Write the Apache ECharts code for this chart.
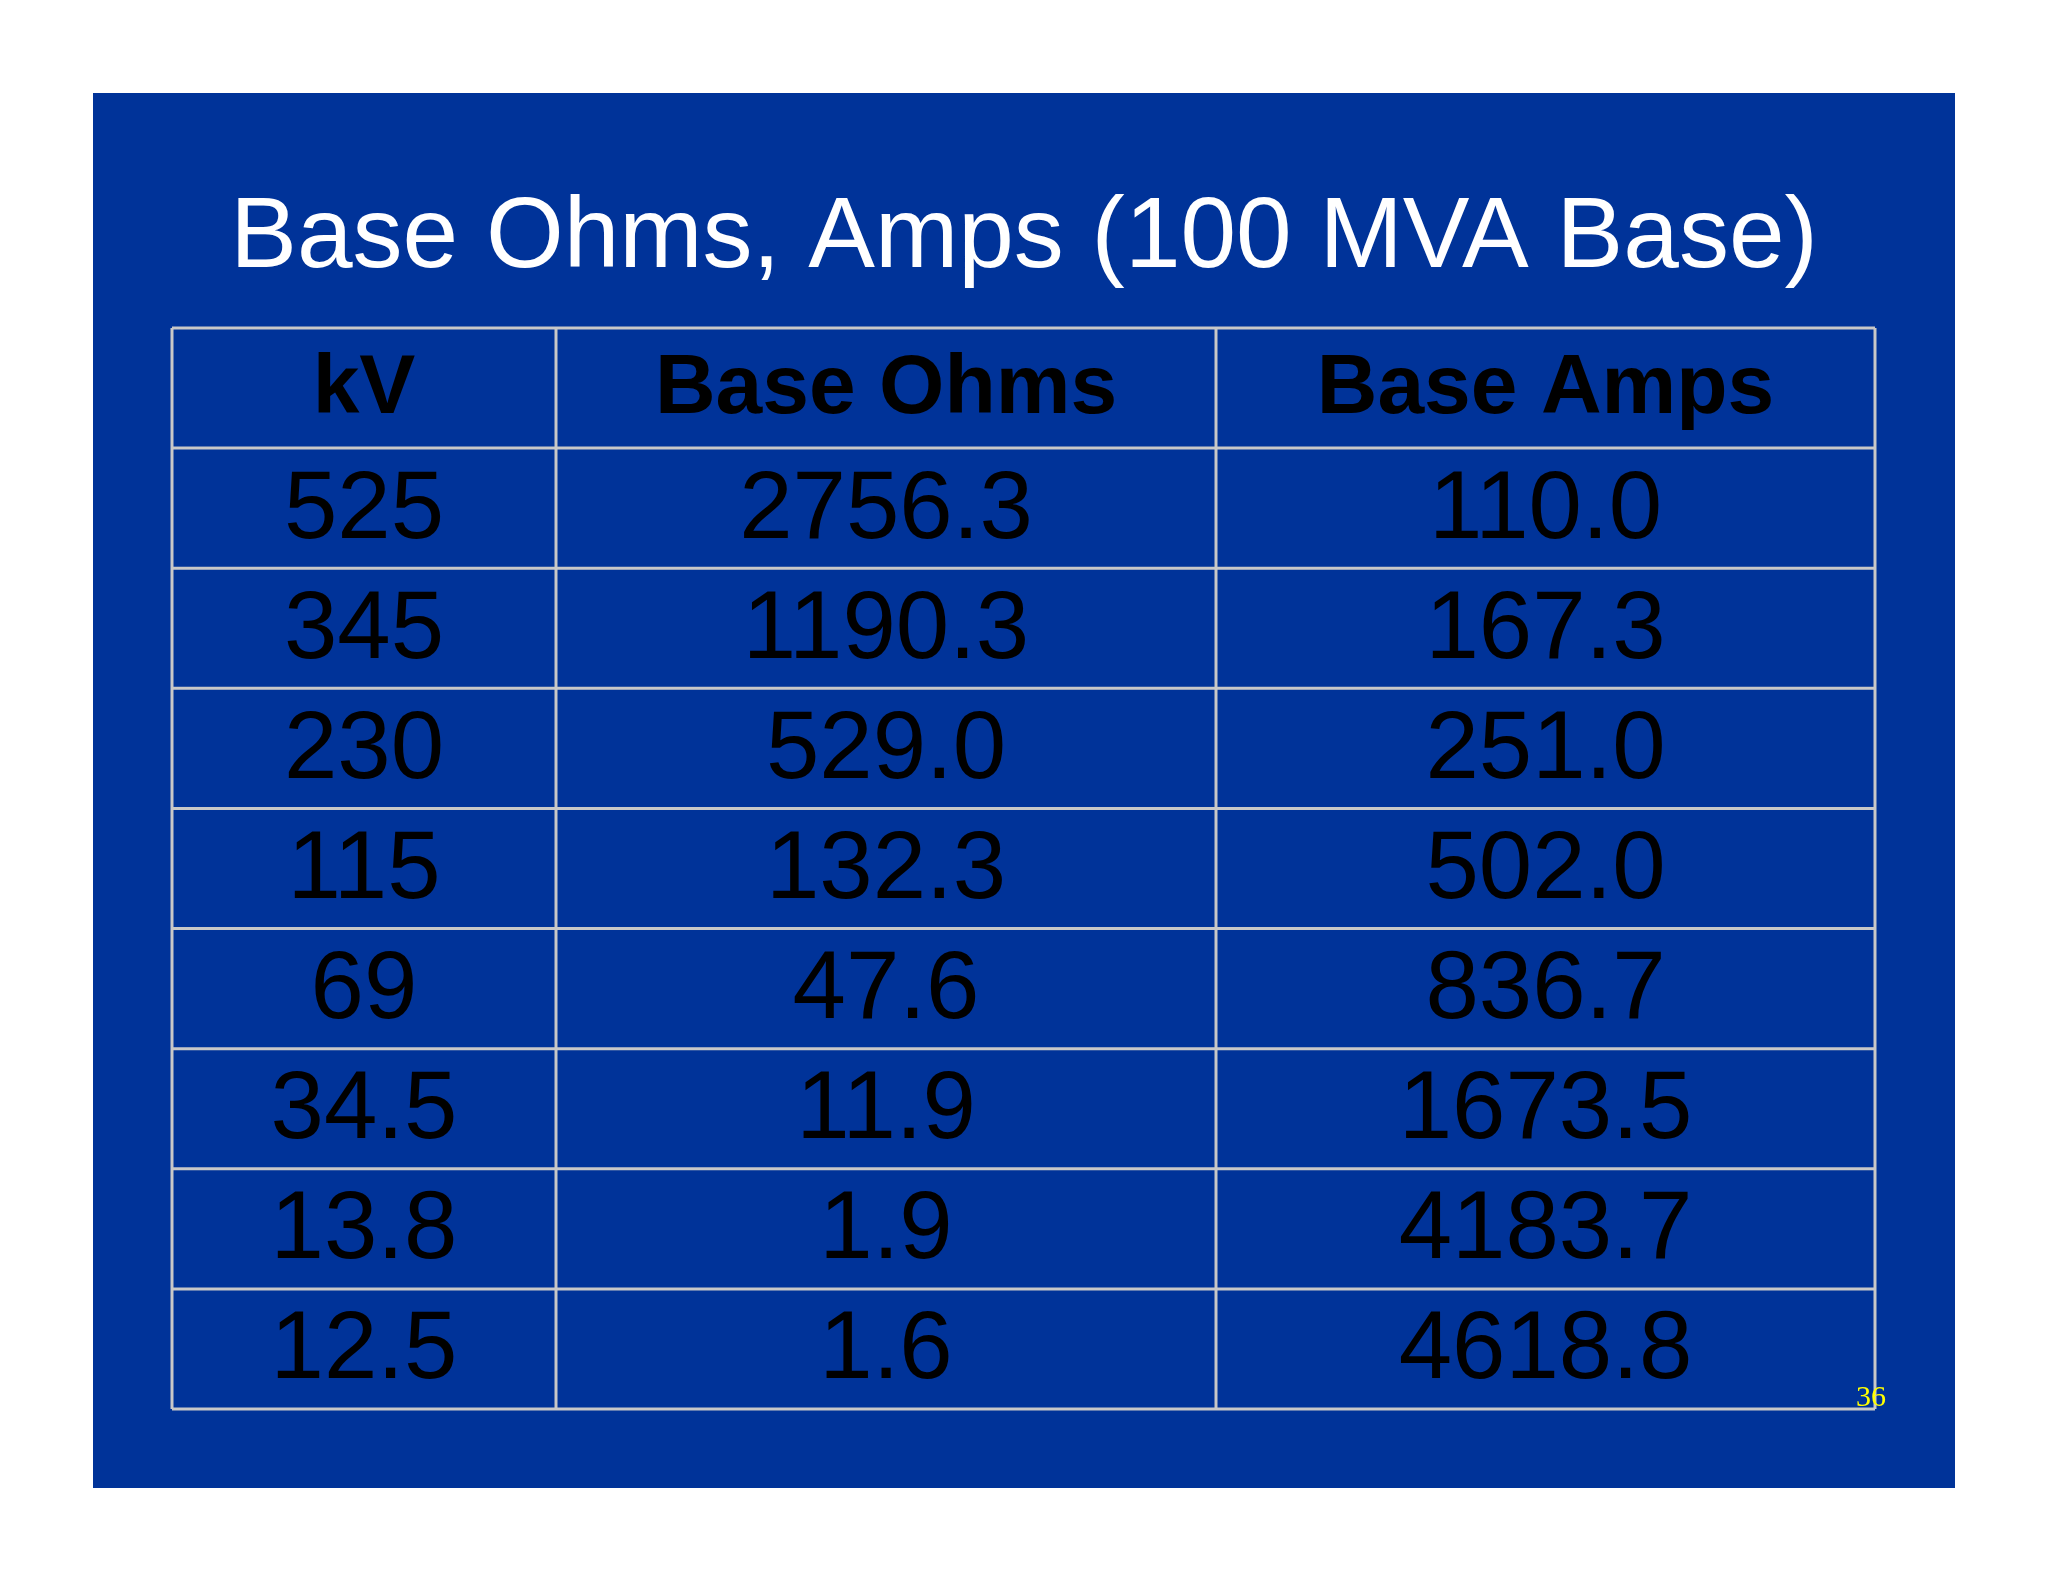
<!DOCTYPE html>
<html><head><meta charset="utf-8">
<script src="https://cdn.jsdelivr.net/npm/echarts@6/dist/echarts.min.js"></script>
<style>html,body{margin:0;padding:0;background:#fff}#c{width:2048px;height:1582px}</style>
</head><body><div id="c"></div>
<script>
const title = "Base Ohms, Amps (100 MVA Base)";
const headers = ["kV", "Base Ohms", "Base Amps"];
const kV = ["525", "345", "230", "115", "69", "34.5", "13.8", "12.5"];
const baseOhms = ["2756.3", "1190.3", "529.0", "132.3", "47.6", "11.9", "1.9", "1.6"];
const baseAmps = ["110.0", "167.3", "251.0", "502.0", "836.7", "1673.5", "4183.7", "4618.8"];
const pageNum = "36";

(function(){
const chart = echarts.init(document.getElementById('c'));
const tL = 172, tR = 1875, tT = 328, tB = 1409;
const colX = [tL, 556, 1216, tR];
const nRows = kV.length + 1;
const rh = (tB - tT) / nRows;
const els = [];
els.push({type:'rect', z:0, shape:{x:93,y:93,width:1862,height:1395}, style:{fill:'#003399'}});
els.push({type:'text', z:2, x:1024, y:239, style:{text:title, fill:'#fff', font:'100px "Liberation Sans", Arial', align:'center', verticalAlign:'middle'}});
const cols = [kV, baseOhms, baseAmps];
for (let c = 0; c < 3; c++) {
  const cx = (colX[c] + colX[c+1]) / 2;
  els.push({type:'text', z:2, x:cx, y:tT + rh/2 + 2, style:{text:headers[c], fill:'#000', font:'bold 84px "Liberation Sans", Arial', align:'center', verticalAlign:'middle'}});
  cols[c].forEach((v, i) => {
    els.push({type:'text', z:2, x:cx, y:tT + rh*(i+1.5) + 3, style:{text:v, fill:'#000', font:'96px "Liberation Sans", Arial', align:'center', verticalAlign:'middle'}});
  });
}
for (let r = 0; r <= nRows; r++) {
  els.push({type:'line', z:1, shape:{x1:tL,y1:tT+rh*r,x2:tR,y2:tT+rh*r}, style:{stroke:'#c8c8c8', lineWidth:3}});
}
colX.forEach(x => els.push({type:'line', z:1, shape:{x1:x,y1:tT,x2:x,y2:tB}, style:{stroke:'#c8c8c8', lineWidth:3}}));
els.push({type:'text', z:3, x:1871, y:1398, style:{text:pageNum, fill:'#ffff00', font:'30px "Liberation Serif", serif', align:'center', verticalAlign:'middle'}});
chart.setOption({animation:false, graphic:{elements:els}});
})();
</script></body></html>
